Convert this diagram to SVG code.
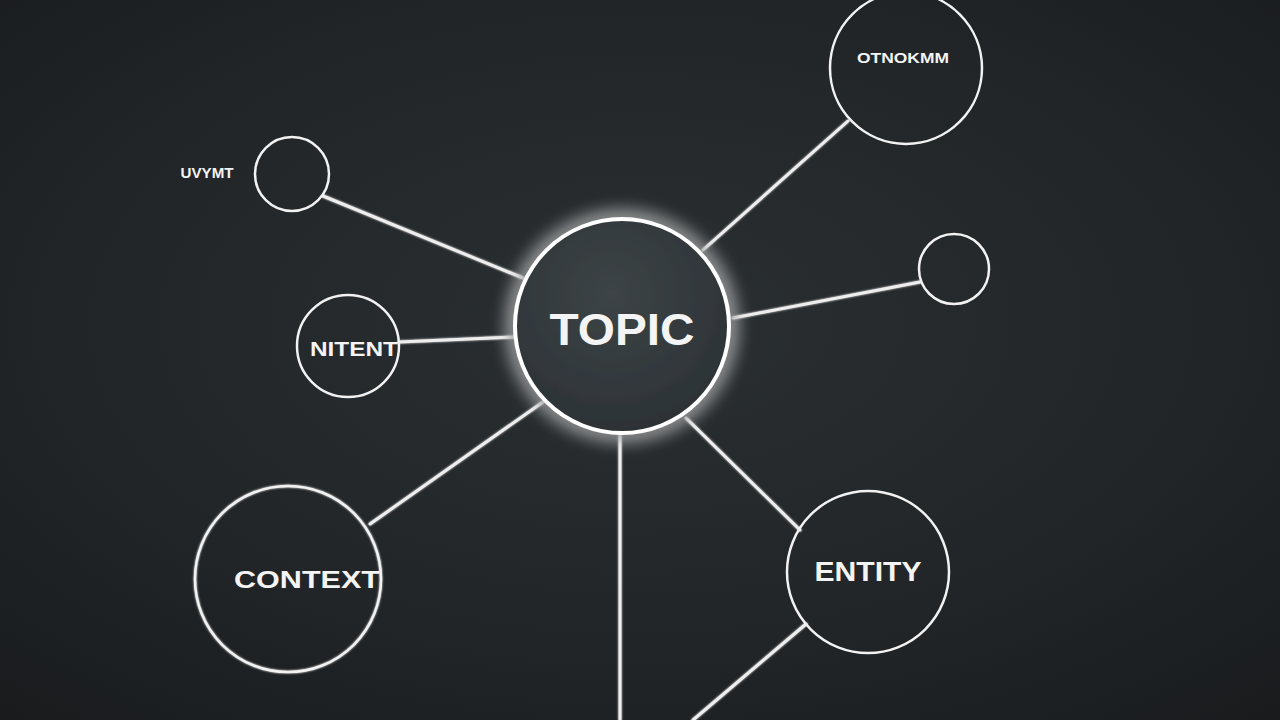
<svg xmlns="http://www.w3.org/2000/svg" width="1280" height="720" viewBox="0 0 1280 720">
<defs>
<radialGradient id="bg" cx="0.5" cy="0.45" r="0.75">
<stop offset="0" stop-color="#2a2f32"/>
<stop offset="0.6" stop-color="#212528"/>
<stop offset="1" stop-color="#191b1d"/>
</radialGradient>
<radialGradient id="topicFill" cx="0.45" cy="0.35" r="0.7">
<stop offset="0" stop-color="#3d4447"/>
<stop offset="1" stop-color="#2b3134"/>
</radialGradient>
<filter id="glow" x="-50%" y="-50%" width="200%" height="200%">
<feGaussianBlur stdDeviation="10" result="b"/>
<feMerge><feMergeNode in="b"/><feMergeNode in="b"/><feMergeNode in="SourceGraphic"/></feMerge>
</filter>
<filter id="soft" x="-50%" y="-50%" width="200%" height="200%">
<feGaussianBlur stdDeviation="1.2" result="b"/>
<feMerge><feMergeNode in="b"/><feMergeNode in="SourceGraphic"/></feMerge>
</filter>
</defs>
<style>
.node{fill:none;stroke:#f2f2f2;stroke-width:2.5}
.edge{stroke:#eeeeee;stroke-width:3;fill:none;stroke-linecap:round}
.lbl{font-family:"Liberation Sans",Arial,sans-serif;fill:#f4f4f4;text-anchor:middle;dominant-baseline:central;font-weight:bold}
</style>
<rect width="1280" height="720" fill="url(#bg)"/>
<g id="connectors" filter="url(#soft)">
<line class="edge" x1="323" y1="196" x2="523" y2="278"/>
<line class="edge" x1="848" y1="121" x2="703" y2="250"/>
<line class="edge" x1="920" y1="282" x2="733" y2="318"/>
<line class="edge" x1="399" y1="342" x2="515" y2="337"/>
<line class="edge" x1="370" y1="524" x2="543" y2="402"/>
<line class="edge" x1="620" y1="434" x2="620" y2="720"/>
<line class="edge" x1="686" y1="418" x2="800" y2="530"/>
<line class="edge" x1="806" y1="624" x2="693" y2="720"/>
</g>
<g id="topic">
<circle cx="622" cy="326" r="107" fill="url(#topicFill)" stroke="#ffffff" stroke-width="4" filter="url(#glow)"/>
<text class="lbl" x="622" y="329" font-size="44" textLength="145" lengthAdjust="spacingAndGlyphs">TOPIC</text>
</g>
<g id="top-right">
<circle class="node" cx="906" cy="68" r="76"/>
<text class="lbl" x="903" y="57" font-size="15" textLength="92" lengthAdjust="spacingAndGlyphs">OTNOKMM</text>
</g>
<g id="top-left">
<circle class="node" cx="292" cy="174" r="37"/>
<text class="lbl" x="207" y="172" font-size="15" textLength="53" lengthAdjust="spacingAndGlyphs">UVYMT</text>
</g>
<g id="right-small">
<circle class="node" cx="954" cy="269" r="35"/>
</g>
<g id="intent">
<circle class="node" cx="348" cy="346" r="51"/>
<text class="lbl" x="354" y="348" font-size="21" font-weight="normal" textLength="88" lengthAdjust="spacingAndGlyphs">NITENT</text>
</g>
<g id="context">
<circle class="node" cx="288" cy="579" r="93" filter="url(#soft)"/>
<text class="lbl" x="307" y="580" font-size="23" textLength="146" lengthAdjust="spacingAndGlyphs">CONTEXT</text>
</g>
<g id="entity">
<circle class="node" cx="868" cy="572" r="81"/>
<text class="lbl" x="868" y="572" font-size="27" textLength="107" lengthAdjust="spacingAndGlyphs">ENTITY</text>
</g>
</svg>
